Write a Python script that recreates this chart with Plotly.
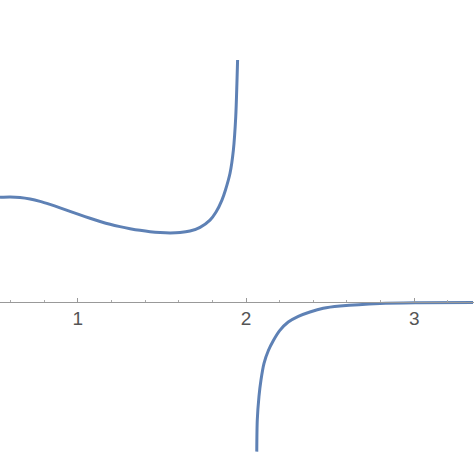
import plotly.graph_objects as go

# Left branch (x < 2)
left_x = [0.538, 0.598, 0.657, 0.717, 0.776, 0.835, 0.895, 0.954, 1.014, 1.073,
          1.133, 1.192, 1.251, 1.311, 1.370, 1.430, 1.489, 1.549, 1.608, 1.667,
          1.727, 1.786, 1.822, 1.857, 1.878, 1.905, 1.925, 1.939, 1.946, 1.950]
left_y = [0.620, 0.622, 0.619, 0.610, 0.596, 0.578, 0.558, 0.537, 0.516, 0.496,
          0.477, 0.460, 0.446, 0.434, 0.424, 0.416, 0.411, 0.409, 0.411, 0.420,
          0.442, 0.485, 0.533, 0.604, 0.664, 0.763, 0.901, 1.099, 1.298, 1.436]

# Right branch (x > 2)
right_x = [2.064, 2.067, 2.077, 2.089, 2.107, 2.133, 2.162, 2.200, 2.251, 2.311,
           2.380, 2.459, 2.559, 2.796, 3.034, 3.349]
right_y = [-0.891, -0.703, -0.564, -0.465, -0.366, -0.290, -0.232, -0.172, -0.121, -0.087,
           -0.061, -0.039, -0.026, -0.010, -0.006, -0.005]

tick_vals = [1, 2, 3]
tick_text = ["1", "2", "3"]

x_range = [0.538, 3.355]
y_range = [-1.024, 1.793]

color = "#5E81B5"
fig = go.Figure()
for xs, ys in [(left_x, left_y), (right_x, right_y)]:
    fig.add_trace(go.Scatter(x=xs, y=ys, mode="lines",
                             line=dict(color=color, width=3, shape="spline", smoothing=0.8),
                             hoverinfo="skip", showlegend=False))

pos = (0 - y_range[0]) / (y_range[1] - y_range[0])
fig.update_layout(
    width=474, height=474,
    margin=dict(l=0, r=0, t=0, b=0),
    paper_bgcolor="white", plot_bgcolor="white",
    xaxis=dict(range=x_range, anchor="free", position=pos, showgrid=False, zeroline=False,
               showline=True, linecolor="#999999", linewidth=1,
               tickvals=tick_vals, ticktext=tick_text, ticks="inside", ticklen=4,
               tickcolor="#999999", tickfont=dict(family="Liberation Sans", size=19, color="#555555"),
               minor=dict(dtick=0.2, tick0=0, ticks="inside", ticklen=2, tickcolor="#aaaaaa", showgrid=False)),
    yaxis=dict(range=y_range, visible=False, showgrid=False, zeroline=False),
)
fig.write_html("out.html", config={"displayModeBar": False},
               post_script="document.body.style.margin='0';document.body.style.padding='0';")
